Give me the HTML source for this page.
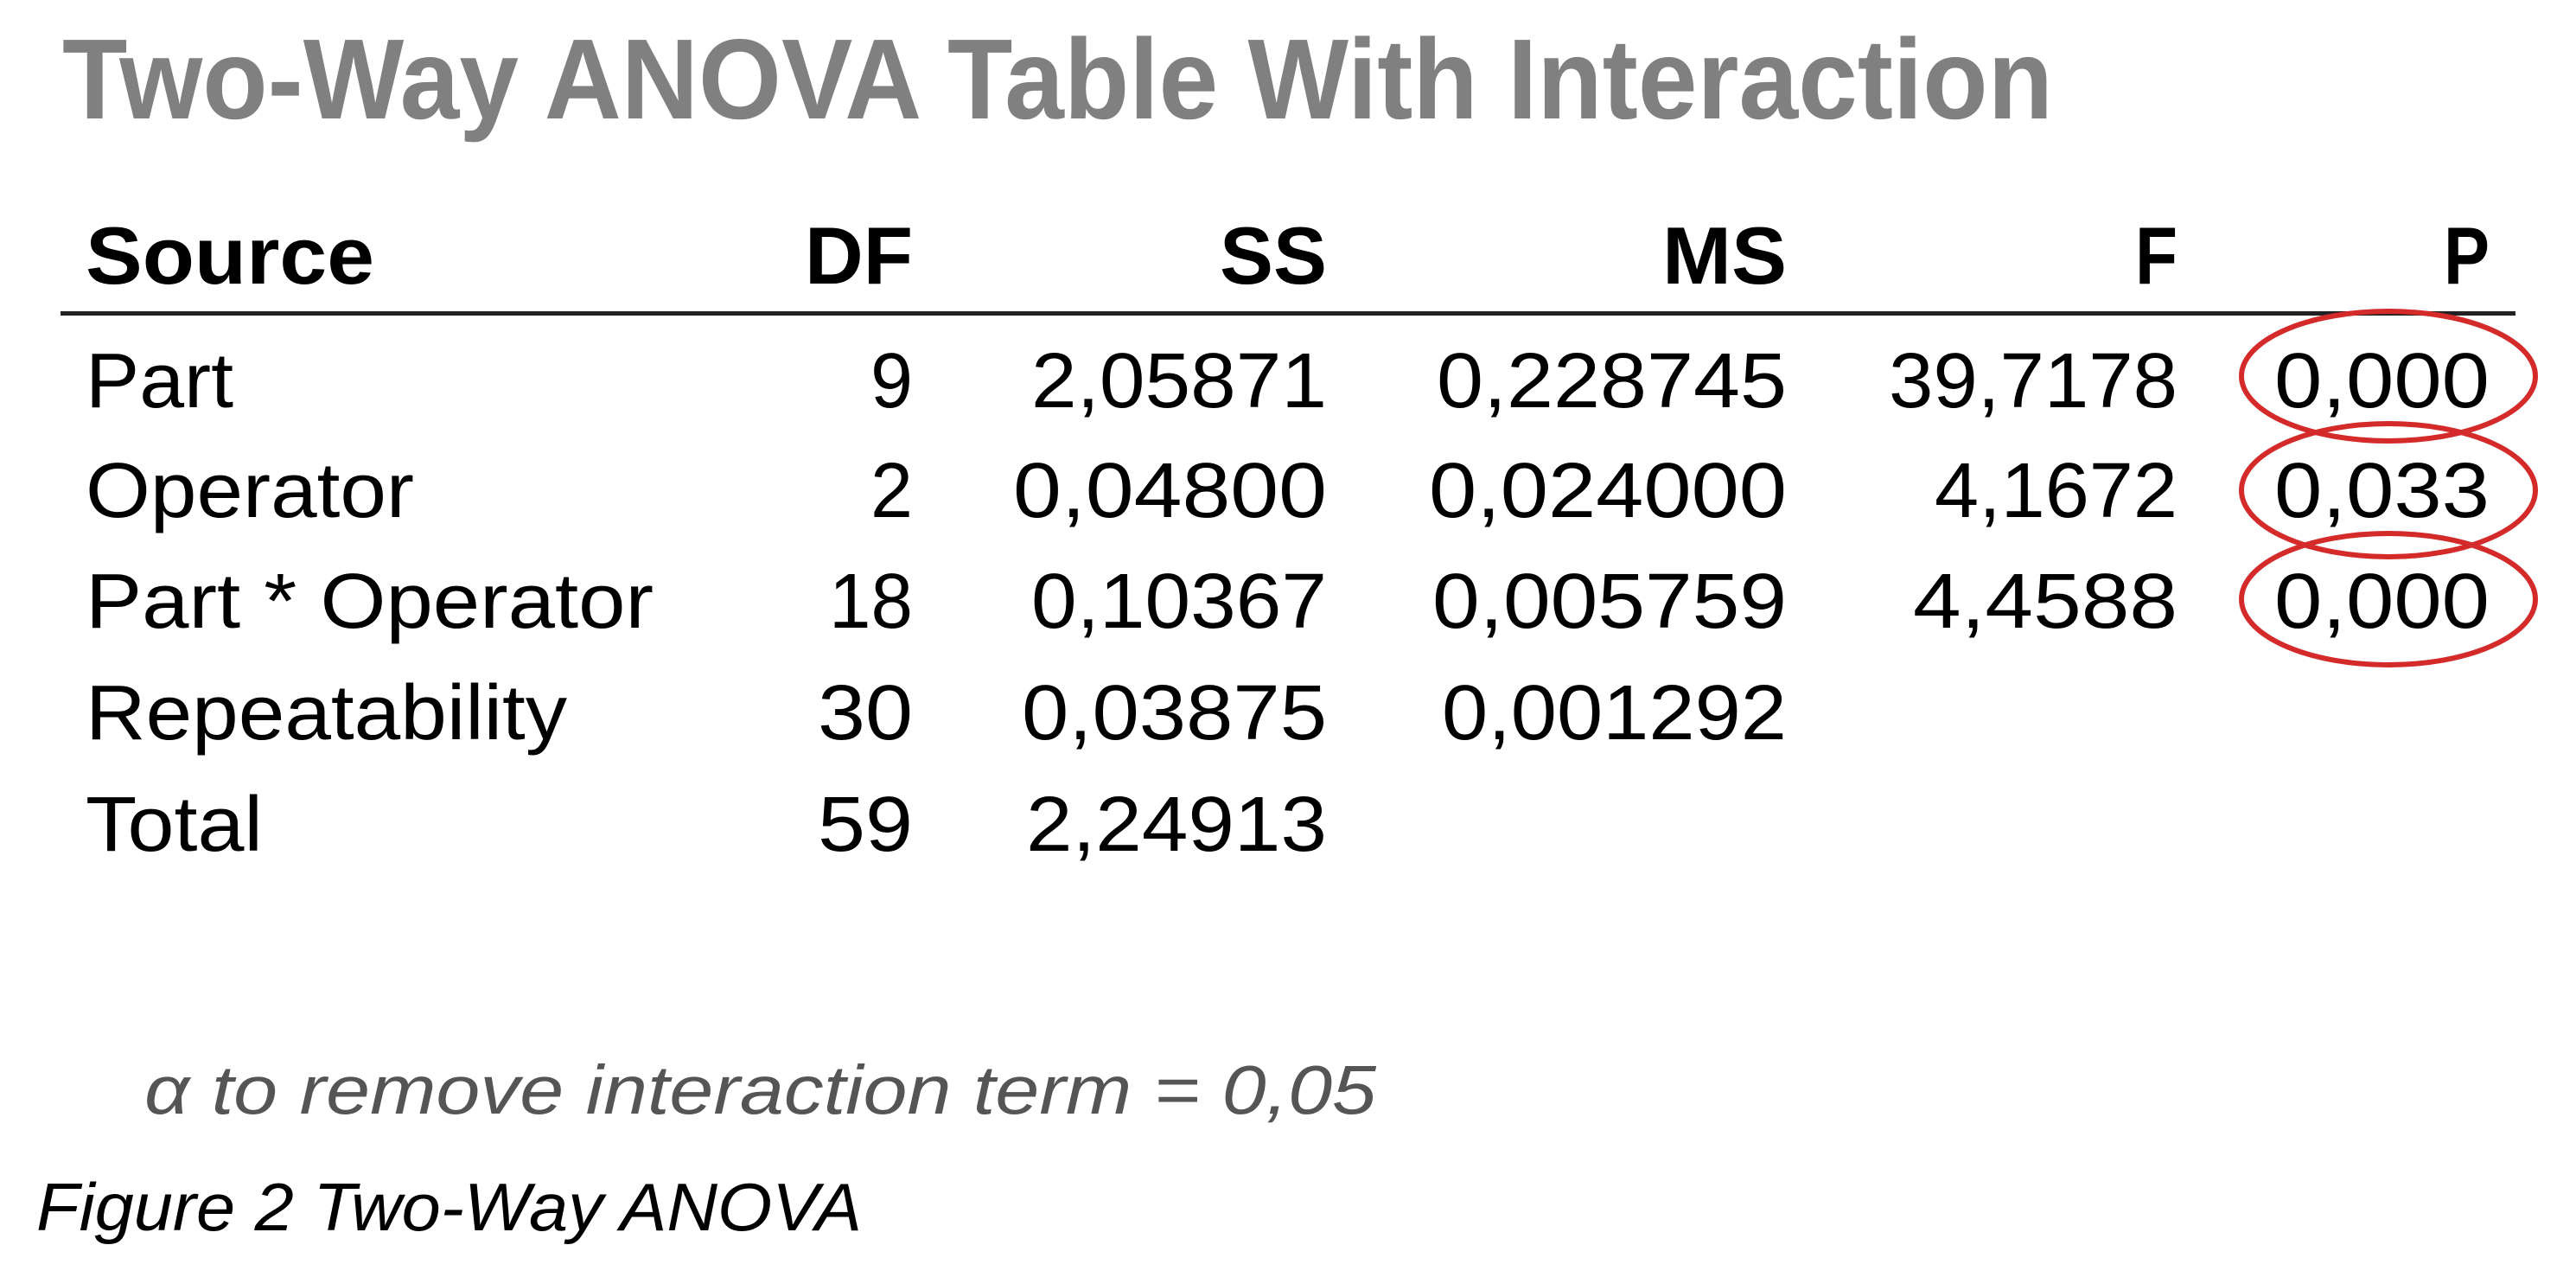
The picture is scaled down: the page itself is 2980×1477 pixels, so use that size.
<!DOCTYPE html>
<html><head><meta charset="utf-8"><style>
html,body{margin:0;padding:0;background:#fff;}
svg{display:block;}
text{font-family:"Liberation Sans",sans-serif;}
</style></head><body>
<svg width="2980" height="1477" viewBox="0 0 2980 1477" xmlns="http://www.w3.org/2000/svg">
<rect width="2980" height="1477" fill="#fff"/>
<text x="72" y="137" font-size="132" font-weight="bold" fill="#808080" textLength="2303" lengthAdjust="spacingAndGlyphs">Two-Way ANOVA Table With Interaction</text>

<g font-size="94" font-weight="bold" fill="#000">
<text x="99" y="328" textLength="334" lengthAdjust="spacingAndGlyphs">Source</text>
<text x="1056" y="328" text-anchor="end" textLength="125" lengthAdjust="spacingAndGlyphs">DF</text>
<text x="1535" y="328" text-anchor="end" textLength="124" lengthAdjust="spacingAndGlyphs">SS</text>
<text x="2067" y="328" text-anchor="end" textLength="144" lengthAdjust="spacingAndGlyphs">MS</text>
<text x="2519" y="328" text-anchor="end" textLength="49" lengthAdjust="spacingAndGlyphs">F</text>
<text x="2880" y="328" text-anchor="end" textLength="53" lengthAdjust="spacingAndGlyphs">P</text>
</g>
<rect x="70" y="360" width="2840" height="5" fill="#222"/>

<g font-size="90" fill="#000">
<text x="99" y="471" textLength="171" lengthAdjust="spacingAndGlyphs">Part</text>
<text x="1056" y="471" text-anchor="end" textLength="49" lengthAdjust="spacingAndGlyphs">9</text>
<text x="1535" y="471" text-anchor="end" textLength="342" lengthAdjust="spacingAndGlyphs">2,05871</text>
<text x="2067" y="471" text-anchor="end" textLength="405" lengthAdjust="spacingAndGlyphs">0,228745</text>
<text x="2519" y="471" text-anchor="end" textLength="334" lengthAdjust="spacingAndGlyphs">39,7178</text>
<text x="2880" y="471" text-anchor="end" textLength="249" lengthAdjust="spacingAndGlyphs">0,000</text>

<text x="99" y="598" textLength="380" lengthAdjust="spacingAndGlyphs">Operator</text>
<text x="1056" y="598" text-anchor="end" textLength="49" lengthAdjust="spacingAndGlyphs">2</text>
<text x="1535" y="598" text-anchor="end" textLength="363" lengthAdjust="spacingAndGlyphs">0,04800</text>
<text x="2067" y="598" text-anchor="end" textLength="414" lengthAdjust="spacingAndGlyphs">0,024000</text>
<text x="2519" y="598" text-anchor="end" textLength="281" lengthAdjust="spacingAndGlyphs">4,1672</text>
<text x="2880" y="598" text-anchor="end" textLength="249" lengthAdjust="spacingAndGlyphs">0,033</text>

<text x="99" y="726" textLength="657" lengthAdjust="spacingAndGlyphs">Part * Operator</text>
<text x="1056" y="726" text-anchor="end" textLength="97" lengthAdjust="spacingAndGlyphs">18</text>
<text x="1535" y="726" text-anchor="end" textLength="342" lengthAdjust="spacingAndGlyphs">0,10367</text>
<text x="2067" y="726" text-anchor="end" textLength="410" lengthAdjust="spacingAndGlyphs">0,005759</text>
<text x="2519" y="726" text-anchor="end" textLength="306" lengthAdjust="spacingAndGlyphs">4,4588</text>
<text x="2880" y="726" text-anchor="end" textLength="249" lengthAdjust="spacingAndGlyphs">0,000</text>

<text x="99" y="855" textLength="557" lengthAdjust="spacingAndGlyphs">Repeatability</text>
<text x="1056" y="855" text-anchor="end" textLength="110" lengthAdjust="spacingAndGlyphs">30</text>
<text x="1535" y="855" text-anchor="end" textLength="353" lengthAdjust="spacingAndGlyphs">0,03875</text>
<text x="2067" y="855" text-anchor="end" textLength="399" lengthAdjust="spacingAndGlyphs">0,001292</text>

<text x="99" y="984" textLength="205" lengthAdjust="spacingAndGlyphs">Total</text>
<text x="1056" y="984" text-anchor="end" textLength="110" lengthAdjust="spacingAndGlyphs">59</text>
<text x="1535" y="984" text-anchor="end" textLength="348" lengthAdjust="spacingAndGlyphs">2,24913</text>
</g>

<g fill="none" stroke="#d42a2a" stroke-width="6">
<ellipse cx="2763" cy="435" rx="170" ry="75"/>
<ellipse cx="2763" cy="567" rx="170" ry="77"/>
<ellipse cx="2763" cy="693" rx="170" ry="76"/>
</g>

<text x="167" y="1288" font-size="80" font-style="italic" fill="#555" textLength="1425" lengthAdjust="spacingAndGlyphs">α to remove interaction term = 0,05</text>
<text x="42" y="1423" font-size="78" font-style="italic" fill="#000" textLength="955" lengthAdjust="spacingAndGlyphs">Figure 2 Two-Way ANOVA</text>
</svg>
</body></html>
